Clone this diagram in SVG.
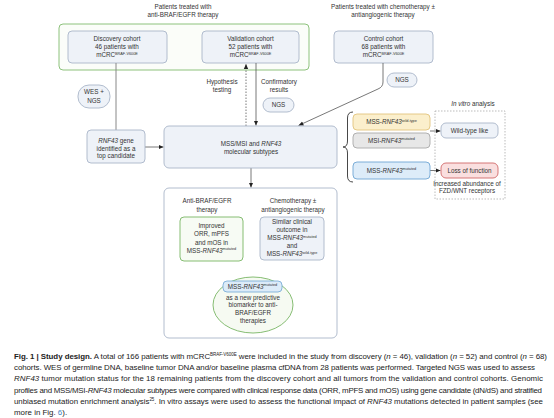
<svg xmlns="http://www.w3.org/2000/svg" width="554" height="418" viewBox="0 0 554 418">
<defs>
<style>
text{font-family:"Liberation Sans",Arial,sans-serif;fill:#333;}
.t{font-size:6.3px;text-anchor:middle;}
.sup{font-size:3.8px;}
.box{fill:#eef2f8;stroke:#a9b5c8;stroke-width:0.9;}
.ln{fill:none;stroke:#555;stroke-width:0.8;}
.cap{font-size:7.9px;fill:#222;}
</style>
<marker id="ah" markerWidth="6" markerHeight="6" refX="5" refY="3" orient="auto" markerUnits="userSpaceOnUse">
<path d="M0,0.8 L5,3 L0,5.2 Z" fill="#222"/>
</marker>
</defs>
<rect width="554" height="418" fill="#fff"/>

<g id="headers">
<text class="t" x="183" y="8.5">Patients treated with</text>
<text class="t" x="183" y="16.8">anti-BRAF/EGFR therapy</text>
<text class="t" x="383" y="8.5">Patients treated with chemotherapy ±</text>
<text class="t" x="383" y="16.8">antiangiogenic therapy</text>
</g>

<g id="antibraf-group">
<rect x="59" y="24" width="250" height="46" rx="4" fill="#fbfdf9" stroke="#8dc27c" stroke-width="1"/>
</g>

<g id="discovery">
<rect class="box" x="68" y="31" width="99" height="32" rx="4"/>
<text class="t" x="117" y="40.5">Discovery cohort</text>
<text class="t" x="117" y="48.8">46 patients with</text>
<text class="t" x="117" y="57.2">mCRC<tspan class="sup" dy="-2.5">BRAF-V600E</tspan></text>
</g>

<g id="validation">
<rect class="box" x="202" y="31" width="97" height="32" rx="4"/>
<text class="t" x="250.5" y="40.5">Validation cohort</text>
<text class="t" x="250.5" y="48.8">52 patients with</text>
<text class="t" x="250.5" y="57.2">mCRC<tspan class="sup" dy="-2.5">BRAF-V600E</tspan></text>
</g>

<g id="control">
<rect class="box" x="334" y="31" width="99" height="32" rx="4"/>
<text class="t" x="383.5" y="40.5">Control cohort</text>
<text class="t" x="383.5" y="48.8">68 patients with</text>
<text class="t" x="383.5" y="57.2">mCRC<tspan class="sup" dy="-2.5">BRAF-V600E</tspan></text>
</g>

<g id="connectors">
<path d="M116,63 L116,130" fill="none" stroke="#888" stroke-width="1"/>
<path class="ln" d="M145,147 L163.5,147" marker-end="url(#ah)"/>
<path class="ln" d="M246,126 L246,64" stroke-dasharray="1.5,1.5" marker-end="url(#ah)"/>
<path class="ln" d="M256,63 L256,125.5" marker-end="url(#ah)"/>
<path class="ln" d="M383,63 L383,82 Q383,87 378,89 L298.5,125.5" marker-end="url(#ah)"/>
<path class="ln" d="M251,168 L251,187.5" marker-end="url(#ah)"/>
<path class="ln" d="M210,261 Q211,276 222,282" marker-end="url(#ah)"/>
<path class="ln" d="M293,260 Q292,276 283.5,282" marker-end="url(#ah)"/>
<path class="ln" d="M430,131 L440.5,131" marker-end="url(#ah)"/>
<path class="ln" d="M430,170.5 L440.5,170.5" marker-end="url(#ah)"/>
<path d="M353,112 Q347.5,112 347.5,118 L347.5,141 Q347.5,147 343,147 Q347.5,147 347.5,153 L347.5,176 Q347.5,182 353,182" fill="none" stroke="#333" stroke-width="0.9"/>
</g>

<g id="wes-ngs">
<rect class="box" x="78" y="85" width="32" height="23" rx="11"/>
<text class="t" x="94" y="94.3">WES +</text>
<text class="t" x="94" y="102.5">NGS</text>
</g>

<g id="hypothesis-label">
<text class="t" x="222" y="84">Hypothesis</text>
<text class="t" x="222" y="92">testing</text>
</g>
<g id="confirmatory-label">
<text class="t" x="279" y="84">Confirmatory</text>
<text class="t" x="279" y="92">results</text>
</g>

<g id="ngs-validation">
<rect class="box" x="263" y="98" width="31" height="14" rx="7"/>
<text class="t" x="278.5" y="107.3">NGS</text>
</g>

<g id="ngs-control">
<rect class="box" x="387" y="73" width="30" height="14" rx="7"/>
<text class="t" x="402" y="82.3">NGS</text>
</g>

<g id="rnf43-gene">
<rect class="box" x="87" y="130" width="58" height="33" rx="4"/>
<text class="t" x="116" y="143"><tspan font-style="italic">RNF43</tspan> gene</text>
<text class="t" x="116" y="150.5">identified as a</text>
<text class="t" x="116" y="158">top candidate</text>
</g>

<g id="subtypes">
<rect class="box" x="164" y="126" width="173" height="42" rx="5"/>
<text class="t" x="251" y="145.5">MSS/MSI and <tspan font-style="italic">RNF43</tspan></text>
<text class="t" x="251" y="154">molecular subtypes</text>
</g>

<g id="outcomes">
<rect x="164" y="188" width="173" height="150" rx="5" fill="#fff" stroke="#a9b5c8" stroke-width="0.9"/>
<text class="t" x="207" y="203.3">Anti-BRAF/EGFR</text>
<text class="t" x="207" y="211.5">therapy</text>
<text class="t" x="293" y="203.3">Chemotherapy ±</text>
<text class="t" x="293" y="211.5">antiangiogenic therapy</text>
</g>

<g id="improved">
<rect x="180" y="217" width="63" height="44" rx="4" fill="#f7fbf4" stroke="#86bd73" stroke-width="1"/>
<text class="t" x="211.5" y="228">Improved</text>
<text class="t" x="211.5" y="236.3">ORR, mPFS</text>
<text class="t" x="211.5" y="244.5">and mOS in</text>
<text class="t" x="211.5" y="252.7">MSS-<tspan font-style="italic">RNF43</tspan><tspan class="sup" dy="-2.5">mutated</tspan></text>
</g>

<g id="similar">
<rect class="box" x="260" y="217" width="64" height="43" rx="4"/>
<text class="t" x="292" y="224">Similar clinical</text>
<text class="t" x="292" y="232">outcome in</text>
<text class="t" x="292" y="240">MSS-<tspan font-style="italic">RNF43</tspan><tspan class="sup" dy="-2.5">mutated</tspan></text>
<text class="t" x="292" y="248">and</text>
<text class="t" x="292" y="256">MSS-<tspan font-style="italic">RNF43</tspan><tspan class="sup" dy="-2.5">wild-type</tspan></text>
</g>

<g id="biomarker">
<ellipse cx="253" cy="305" rx="40" ry="28" fill="#f6faf2" stroke="#86bd73" stroke-width="1"/>
<rect x="223" y="281" width="59" height="11" rx="4" fill="#dcebf8" stroke="#6fa6d4" stroke-width="0.8"/>
<text class="t" x="252.5" y="288.8">MSS-<tspan font-style="italic">RNF43</tspan><tspan class="sup" dy="-2.5">mutated</tspan></text>
<text class="t" x="253" y="299.5">as a new predictive</text>
<text class="t" x="253" y="307.3">biomarker to anti-</text>
<text class="t" x="253" y="315">BRAF/EGFR</text>
<text class="t" x="253" y="322.7">therapies</text>
</g>

<g id="mss-wt">
<rect x="353" y="114" width="77" height="16" rx="4" fill="#fbefcc" stroke="#e2c47e" stroke-width="0.9"/>
<text class="t" x="391.5" y="124.3">MSS-<tspan font-style="italic">RNF43</tspan><tspan class="sup" dy="-2.5">wild-type</tspan></text>
</g>
<g id="msi-mut">
<rect x="353" y="133" width="77" height="15" rx="4" fill="#e7e7e7" stroke="#a9a9a9" stroke-width="0.9"/>
<text class="t" x="391.5" y="142.8">MSI-<tspan font-style="italic">RNF43</tspan><tspan class="sup" dy="-2.5">mutated</tspan></text>
</g>
<g id="mss-mut">
<rect x="353" y="162" width="77" height="17" rx="4" fill="#ddecf9" stroke="#6fa6d4" stroke-width="0.9"/>
<text class="t" x="391.5" y="172.8">MSS-<tspan font-style="italic">RNF43</tspan><tspan class="sup" dy="-2.5">mutated</tspan></text>
</g>

<g id="in-vitro">
<text class="t" x="473" y="106.3"><tspan font-style="italic">In vitro</tspan> analysis</text>
<rect x="435" y="111" width="70" height="88" fill="none" stroke="#aaa" stroke-width="0.8" stroke-dasharray="1.5,1.5"/>
</g>
<g id="wild-type-like">
<rect class="box" x="441" y="123" width="57" height="15" rx="5"/>
<text class="t" x="469.5" y="132.8">Wild-type like</text>
</g>
<g id="loss-of-function">
<rect x="441" y="163" width="57" height="15" rx="5" fill="#fadfdf" stroke="#d06a6a" stroke-width="0.9"/>
<text class="t" x="469.5" y="172.8">Loss of function</text>
<text class="t" x="467" y="186" font-size="5.6">Increased abundance of</text>
<text class="t" x="467" y="193" font-size="5.6">FZD/WNT receptors</text>
</g>

<g id="caption">
<text class="cap" x="14" y="359" textLength="533" lengthAdjust="spacing"><tspan font-weight="bold">Fig. 1 | Study design.</tspan> A total of 166 patients with mCRC<tspan font-size="4.5" dy="-3">BRAF-V600E</tspan><tspan dy="3"> were included in the study from discovery (</tspan><tspan font-style="italic">n</tspan> = 46), validation (<tspan font-style="italic">n</tspan> = 52) and control (<tspan font-style="italic">n</tspan> = 68)</text>
<text class="cap" x="14" y="370.2" textLength="521" lengthAdjust="spacing">cohorts. WES of germline DNA, baseline tumor DNA and/or baseline plasma cfDNA from 28 patients was performed. Targeted NGS was used to assess</text>
<text class="cap" x="14" y="381.4" textLength="529" lengthAdjust="spacing"><tspan font-style="italic">RNF43</tspan> tumor mutation status for the 18 remaining patients from the discovery cohort and all tumors from the validation and control cohorts. Genomic</text>
<text class="cap" x="14" y="392.6" textLength="528" lengthAdjust="spacing">profiles and MSS/MSI-<tspan font-style="italic">RNF43</tspan> molecular subtypes were compared with clinical response data (ORR, mPFS and mOS) using gene candidate (dN/dS) and stratified</text>
<text class="cap" x="14" y="403.8" textLength="529" lengthAdjust="spacing">unbiased mutation enrichment analysis<tspan font-size="4.5" dy="-3">25</tspan><tspan dy="3">. In vitro assays were used to assess the functional impact of </tspan><tspan font-style="italic">RNF43</tspan> mutations detected in patient samples (see</text>
<text class="cap" x="14" y="415">more in Fig. <tspan fill="#3a7fc1">6</tspan>).</text>
</g>
</svg>
